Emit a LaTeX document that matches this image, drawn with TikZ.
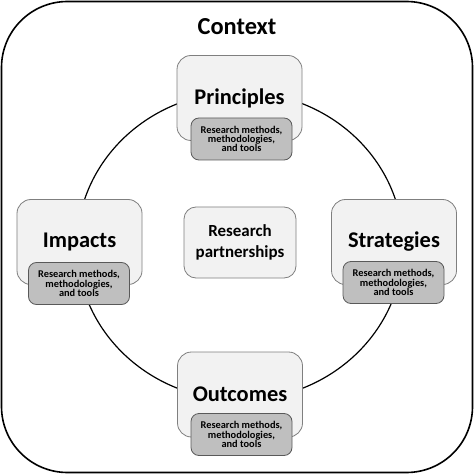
\documentclass[tikz,border=0pt]{standalone}
\usepackage{fontspec}
\setmainfont{Carlito}
\definecolor{boxfill}{HTML}{F2F2F2}
\definecolor{boxline}{HTML}{7F7F7F}
\definecolor{subfill}{HTML}{BFBFBF}
\definecolor{subline}{HTML}{595959}
\begin{document}
\begin{tikzpicture}[x=1bp,y=-1bp,
	stage/.style={draw=boxline, fill=boxfill, rounded corners=14bp, line width=0.8bp,
		minimum width=125bp, minimum height=85bp, inner sep=0pt,
		font=\bfseries\fontsize{22.5}{26}\selectfont},
	tools/.style={draw=subline, fill=subfill, rounded corners=8bp, line width=0.8bp,
		minimum width=101bp, minimum height=42bp, inner sep=0pt, align=center,
		font=\bfseries\fontsize{10.4}{9.2}\selectfont},
	core/.style={draw=boxline, fill=boxfill, rounded corners=12bp, line width=0.8bp,
		minimum width=112bp, minimum height=71bp, inner sep=0pt, align=center,
		font=\bfseries\fontsize{17}{21}\selectfont}]

	\useasboundingbox (0,0) rectangle (474,474);
	\draw[line width=1.6bp, rounded corners=66bp] (1.5,1.5) rectangle (472.5,472.5);
	\draw[line width=1.2bp] (240,246) ellipse [x radius=163, y radius=154];

	\node[font=\bfseries\fontsize{24.5}{28}\selectfont] (ctx) at (237,27) {Context};

	\node[core] (part) at (240,242.5) {Research\\partnerships};

	\node[stage] (prin) at (239.5,98) {Principles};
	\node[tools] (prin-t) at (241.5,139) {Research methods,\\methodologies,\\and tools};

	\node[stage] (imp) at (79.5,242) {Impacts};
	\node[tools] (imp-t) at (79,283.5) {Research methods,\\methodologies,\\and tools};

	\node[stage] (str) at (394,242) {Strategies};
	\node[tools] (str-t) at (393.5,282.5) {Research methods,\\methodologies,\\and tools};

	\node[stage] (out) at (240,394.5) {Outcomes};
	\node[tools] (out-t) at (241.5,434.5) {Research methods,\\methodologies,\\and tools};

\end{tikzpicture}
\end{document}
